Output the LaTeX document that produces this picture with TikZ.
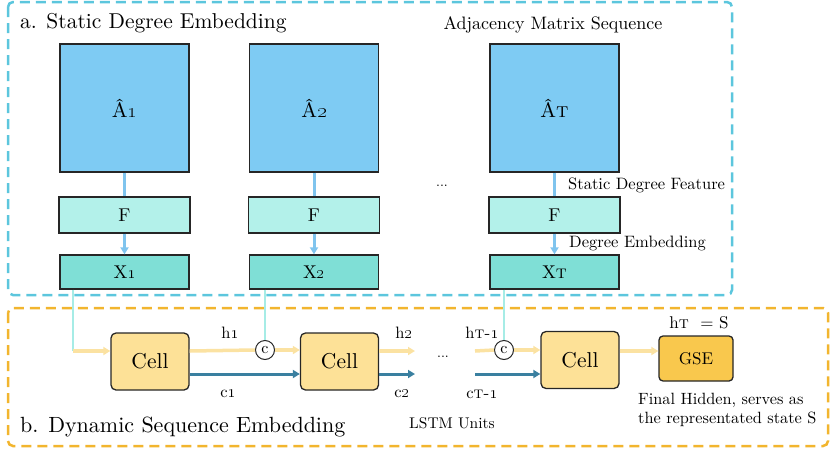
\documentclass[tikz,border=0pt]{standalone}
\usetikzlibrary{arrows.meta}
\DeclareFontFamily{TU}{lmten}{}
\DeclareFontShape{TU}{lmten}{m}{n}{<-> \UnicodeFontFile{lmroman10-regular}{\UnicodeFontTeXLigatures}}{}
\DeclareFontShape{TU}{lmten}{m}{sc}{<-> \UnicodeFontFile{lmromancaps10-regular}{\UnicodeFontTeXLigatures}}{}
\renewcommand{\rmdefault}{lmten}
\definecolor{abox}{HTML}{7ECBF3}
\definecolor{fbox}{HTML}{B3F1EA}
\definecolor{xbox}{HTML}{7FDFD6}
\definecolor{bluedash}{HTML}{5CC6DD}
\definecolor{orangedash}{HTML}{F2B52E}
\definecolor{cellfill}{HTML}{FDE197}
\definecolor{gsefill}{HTML}{F9C84D}
\definecolor{hcol}{HTML}{FBE2A2}
\definecolor{ccol}{HTML}{3A80A0}
\definecolor{cyanl}{HTML}{A6ECE6}
\definecolor{bluel}{HTML}{7FC4EE}
\newcommand{\fs}[1]{\fontsize{#1}{#1}\selectfont}
\newcommand{\fsb}[2]{\fontsize{#1}{#2}\selectfont}
\newcommand{\os}[1]{\oldstylenums{#1}}
\tikzset{
  x=1pt,y=-1pt,
  abx/.style={draw=black!85,line width=1.3pt,fill=abox,minimum width=129pt,minimum height=128pt,inner sep=0pt,font=\fs{21}},
  fbx/.style={draw=black!85,line width=1.3pt,fill=fbox,minimum width=131pt,minimum height=36pt,inner sep=0pt,font=\fs{18.5}},
  xbx/.style={draw=black!85,line width=1.3pt,fill=xbox,minimum width=129pt,minimum height=34pt,inner sep=0pt,font=\fs{18.5}},
  cellbx/.style={draw=black!85,line width=1.3pt,fill=cellfill,rounded corners=5pt,minimum width=78pt,minimum height=57pt,inner sep=0pt,font=\fs{21.5}},
  gsebx/.style={draw=black!85,line width=1.3pt,fill=gsefill,rounded corners=4pt,minimum width=74pt,minimum height=45pt,inner sep=0pt,font=\fs{17}},
  cc/.style={circle,draw=black!85,line width=1pt,fill=white,minimum size=19pt,inner sep=0pt,font=\fs{16}},
  tip/.style={-{Triangle[length=7pt,width=8pt]}},
  hline/.style={draw=hcol,line width=3.5pt},
  cline/.style={draw=ccol,line width=3pt},
  cyline/.style={draw=cyanl,line width=2pt},
  blline/.style={draw=bluel,line width=3pt},
  lbl/.style={inner sep=0pt,font=\fs{16.5}},
  note/.style={inner sep=0pt,font=\fs{16.5}},
}
\begin{document}
\begin{tikzpicture}
\useasboundingbox (0,0) rectangle (832,450);
% dashed frames
\draw[bluedash,line width=2.5pt,dash pattern=on 10pt off 6pt,rounded corners=5pt] (8,2) rectangle (732,295);
\draw[orangedash,line width=2.5pt,dash pattern=on 10pt off 6pt,rounded corners=5pt] (8,308) rectangle (828,446);

% titles
\node[anchor=west,inner sep=0pt,font=\fs{21.5}] (ta) at (20,23) {a. Static Degree Embedding};
\node[inner sep=0pt,font=\fs{18}] (tadj) at (553,25) {Adjacency Matrix Sequence};
\node[anchor=west,inner sep=0pt,font=\fs{22}] (tb) at (20,427) {b. Dynamic Sequence Embedding};

% adjacency boxes
\node[abx] (A1) at (124.5,108) {\^A\os{1}};
\node[abx] (A2) at (314,108) {\^A\os{2}};
\node[abx] (AT) at (554.5,108) {\^A\textsc{t}};
\node[inner sep=0pt,font=\fs{14}] (dots1) at (442,186) {...};

% F boxes
\node[fbx] (F1) at (124.5,215) {F};
\node[fbx] (F2) at (314,215) {F};
\node[fbx] (FT) at (554.5,215) {F};

% X boxes
\node[xbx] (X1) at (124.5,272) {X\os{1}};
\node[xbx] (X2) at (314,272) {X\os{2}};
\node[xbx] (XT) at (554.5,272) {X\textsc{t}};

\draw[blline] (A1) -- (F1);
\draw[blline] (A2) -- (F2);
\draw[blline] (AT) -- (FT);
\draw[blline,tip] (F1) -- (X1);
\draw[blline,tip] (F2) -- (X2);
\draw[blline,tip] (FT) -- (XT);

\node[note,anchor=west] (sdf) at (568,185) {Static Degree Feature};
\node[note,anchor=west] (de) at (569,243) {Degree Embedding};

% LSTM
\node[cellbx] (Cell1) at (150,361.5) {Cell};
\node[cellbx] (Cell2) at (339.5,361.5) {Cell};
\node[cellbx] (Cell3) at (580,360) {Cell};
\node[gsebx] (GSE) at (696,358.5) {GSE};

\node[cc] (C1) at (265,350) {c};
\node[cc] (C2) at (504,350) {c};

\coordinate (k1) at (73,351);
\coordinate (hy) at (0,351);
\coordinate (cy) at (0,374);
\coordinate (h2e) at (415,351);
\coordinate (c2e) at (415,374);
\coordinate (h3s) at (475,351);
\coordinate (c3s) at (475,374);

\draw[cyline] (X1.south -| k1) -- (k1);
\draw[hline,tip] (k1) -- (k1 -| Cell1.west);
\draw[cyline] (X2.south -| C1) -- (C1.north);
\draw[cyline] (XT.south -| C2) -- (C2.north);

\draw[hline] (Cell1.east |- hy) -- (C1.west);
\draw[hline,tip] (C1.east) -- (Cell2.west |- C1);
\draw[cline,tip] (Cell1.east |- cy) -- (Cell2.west |- cy);
\draw[hline,tip] (Cell2.east |- hy) -- (h2e);
\draw[cline,tip] (Cell2.east |- cy) -- (c2e);
\draw[hline] (h3s) -- (C2.west);
\draw[hline,tip] (C2.east) -- (Cell3.west |- C2);
\draw[cline,tip] (c3s) -- (Cell3.west |- cy);
\draw[hline,tip] (Cell3.east |- hy) -- (GSE.west |- hy);

\node[inner sep=0pt,font=\fs{14}] (dots2) at (443,357) {...};

\node[lbl] (lh1) at (230,333) {h\os{1}};
\node[lbl] (lh2) at (404,333) {h\os{2}};
\node[lbl] (lhT) at (482,333) {h\textsc{t-}\os{1}};
\node[lbl] (lc1) at (228,394) {c\os{1}};
\node[lbl] (lc2) at (402,394) {c\os{2}};
\node[lbl] (lcT) at (482,394) {c\textsc{t-}\os{1}};
\node[lbl,font=\fs{17}] (lhs) at (699,323) {h\textsc{t}\ \ = S};

\node[note,anchor=west,align=left,font={\fsb{16.3}{19}}] (fin) at (638,409.5) {Final Hidden, serves as\\the representated state S};
\node[inner sep=0pt,font=\fs{15.5}] (lstm) at (452,423) {LSTM Units};
\end{tikzpicture}
\end{document}
